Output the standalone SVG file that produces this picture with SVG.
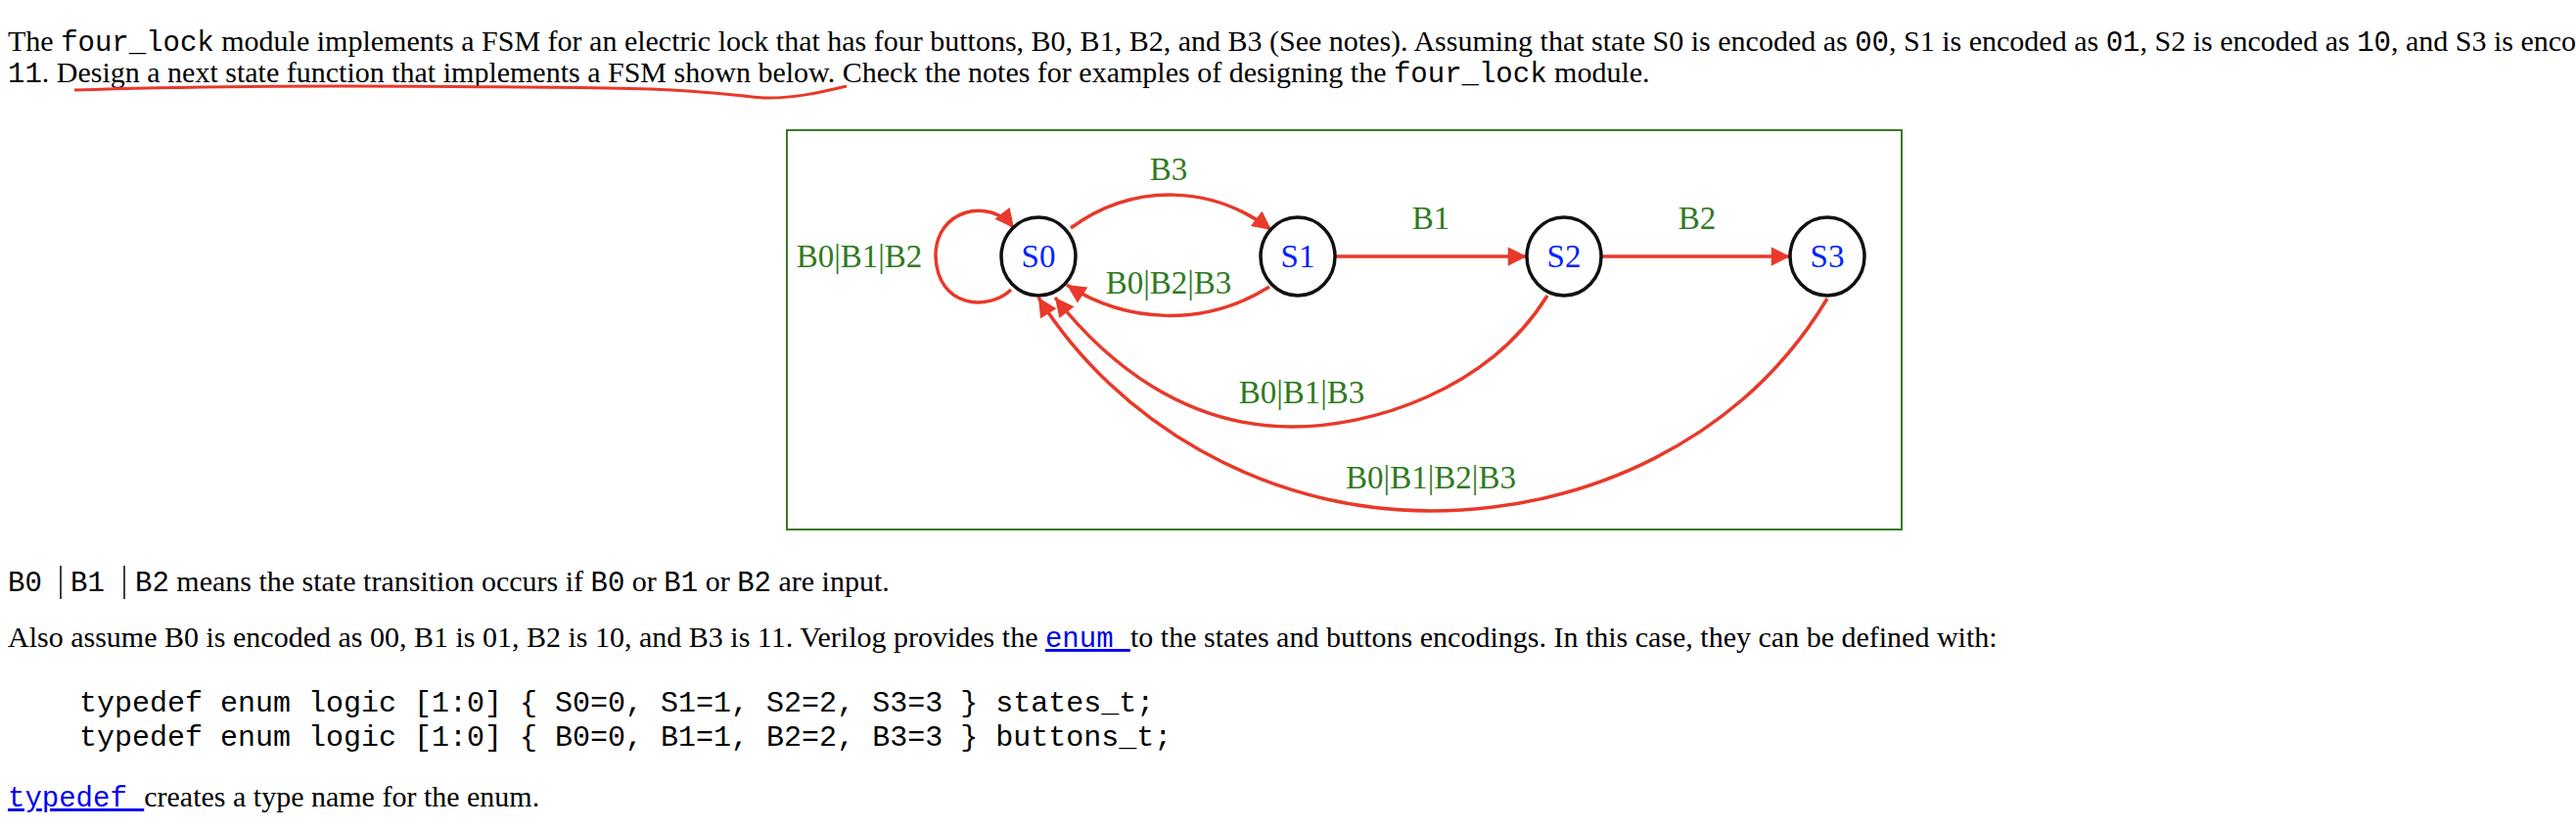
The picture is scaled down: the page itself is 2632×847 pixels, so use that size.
<svg xmlns="http://www.w3.org/2000/svg" width="2632" height="847" viewBox="0 0 2632 847">
<style>
.t{font-family:"Liberation Serif",serif;font-size:30px;fill:#000}
.m{font-family:"Liberation Mono",monospace;font-size:29px}
.c{font-family:"Liberation Mono",monospace;font-size:30px;fill:#000}
.lk{fill:#0000ee;text-decoration:underline}
.lbl{font-family:"Liberation Serif",serif;font-size:33px;fill:#2f7a1e;text-anchor:middle}
.st{font-family:"Liberation Serif",serif;font-size:33px;fill:#0022ff;text-anchor:middle}
.node{fill:#fff;stroke:#111;stroke-width:3.5}
.e{fill:none;stroke:#e8392a;stroke-width:3.5}
</style>
<defs>
<marker id="ah" viewBox="0 0 10 10" refX="10" refY="5" markerWidth="6" markerHeight="5.5" orient="auto" markerUnits="strokeWidth">
<path d="M0,0 L10,5 L0,10 z" fill="#e8392a"/>
</marker>
</defs>
<rect width="2632" height="847" fill="#fff"/>
<text class="t" x="8" y="52">The <tspan class="m">four_lock</tspan> module implements a FSM for an electric lock that has four buttons, B0, B1, B2, and B3 (See notes). Assuming that state S0 is encoded as <tspan class="m">00</tspan>, S1 is encoded as <tspan class="m">01</tspan>, S2 is encoded as <tspan class="m">10</tspan>, and S3 is enco</text>
<text class="t" x="8" y="84"><tspan class="m">11</tspan>. Design a next state function that implements a FSM shown below. Check the notes for examples of designing the <tspan class="m">four_lock</tspan> module.</text>
<path d="M76,92 C250,86 450,88 620,90 C700,91 740,96 780,100 C810,101 840,94 865,88" fill="none" stroke="#e8392a" stroke-width="3"/>
<rect x="804" y="133" width="1139" height="408" fill="none" stroke="#3a7a25" stroke-width="2"/>
<g id="edges">
<path class="e" marker-end="url(#ah)" d="M1033,296 C1010,318 958,315 956,262 C955,215 1010,200 1036,233"/>
<path class="e" marker-end="url(#ah)" d="M1094,233 C1160,185 1240,190 1299,235"/>
<path class="e" marker-end="url(#ah)" d="M1297,293 C1230,335 1150,330 1090,291"/>
<path class="e" marker-end="url(#ah)" d="M1364,262 L1560,262"/>
<path class="e" marker-end="url(#ah)" d="M1636,262 L1829,262"/>
<path class="e" marker-end="url(#ah)" d="M1581,302 C1520,400 1400,436 1320,436 C1210,436 1130,370 1078,304"/>
<path class="e" marker-end="url(#ah)" d="M1867,305 C1780,450 1620,522 1462,522 C1290,522 1140,430 1061,304"/>
</g>
<g id="S0"><ellipse class="node" cx="1061" cy="262" rx="38" ry="40"/><text class="st" x="1061" y="273">S0</text></g>
<g id="S1"><ellipse class="node" cx="1326" cy="262" rx="38" ry="40"/><text class="st" x="1326" y="273">S1</text></g>
<g id="S2"><ellipse class="node" cx="1598" cy="262" rx="38" ry="40"/><text class="st" x="1598" y="273">S2</text></g>
<g id="S3"><ellipse class="node" cx="1867" cy="262" rx="38" ry="40"/><text class="st" x="1867" y="273">S3</text></g>
<g id="labels">
<text class="lbl" x="1194" y="184">B3</text>
<text class="lbl" x="878" y="273">B0|B1|B2</text>
<text class="lbl" x="1194" y="300">B0|B2|B3</text>
<text class="lbl" x="1462" y="234">B1</text>
<text class="lbl" x="1734" y="234">B2</text>
<text class="lbl" x="1330" y="412">B0|B1|B3</text>
<text class="lbl" x="1462" y="499">B0|B1|B2|B3</text>
</g>
<text class="t" x="8" y="604"><tspan class="m">B0</tspan><tspan x="72" class="m">B1</tspan><tspan x="138" class="m">B2</tspan> means the state transition occurs if <tspan class="m">B0</tspan> or <tspan class="m">B1</tspan> or <tspan class="m">B2</tspan> are input.</text>
<line x1="62" y1="578" x2="62" y2="612" stroke="#000" stroke-width="1.5"/>
<line x1="127" y1="578" x2="127" y2="612" stroke="#000" stroke-width="1.5"/>
<text class="t" x="8" y="661">Also assume B0 is encoded as 00, B1 is 01, B2 is 10, and B3 is 11. Verilog provides the <tspan class="m lk">enum </tspan>to the states and buttons encodings. In this case, they can be defined with:</text>
<text class="c" x="81" y="727" xml:space="preserve">typedef enum logic [1:0] { S0=0, S1=1, S2=2, S3=3 } states_t;</text>
<text class="c" x="81" y="762" xml:space="preserve">typedef enum logic [1:0] { B0=0, B1=1, B2=2, B3=3 } buttons_t;</text>
<text class="t" x="8" y="824"><tspan class="m lk">typedef </tspan>creates a type name for the enum.</text>
</svg>
